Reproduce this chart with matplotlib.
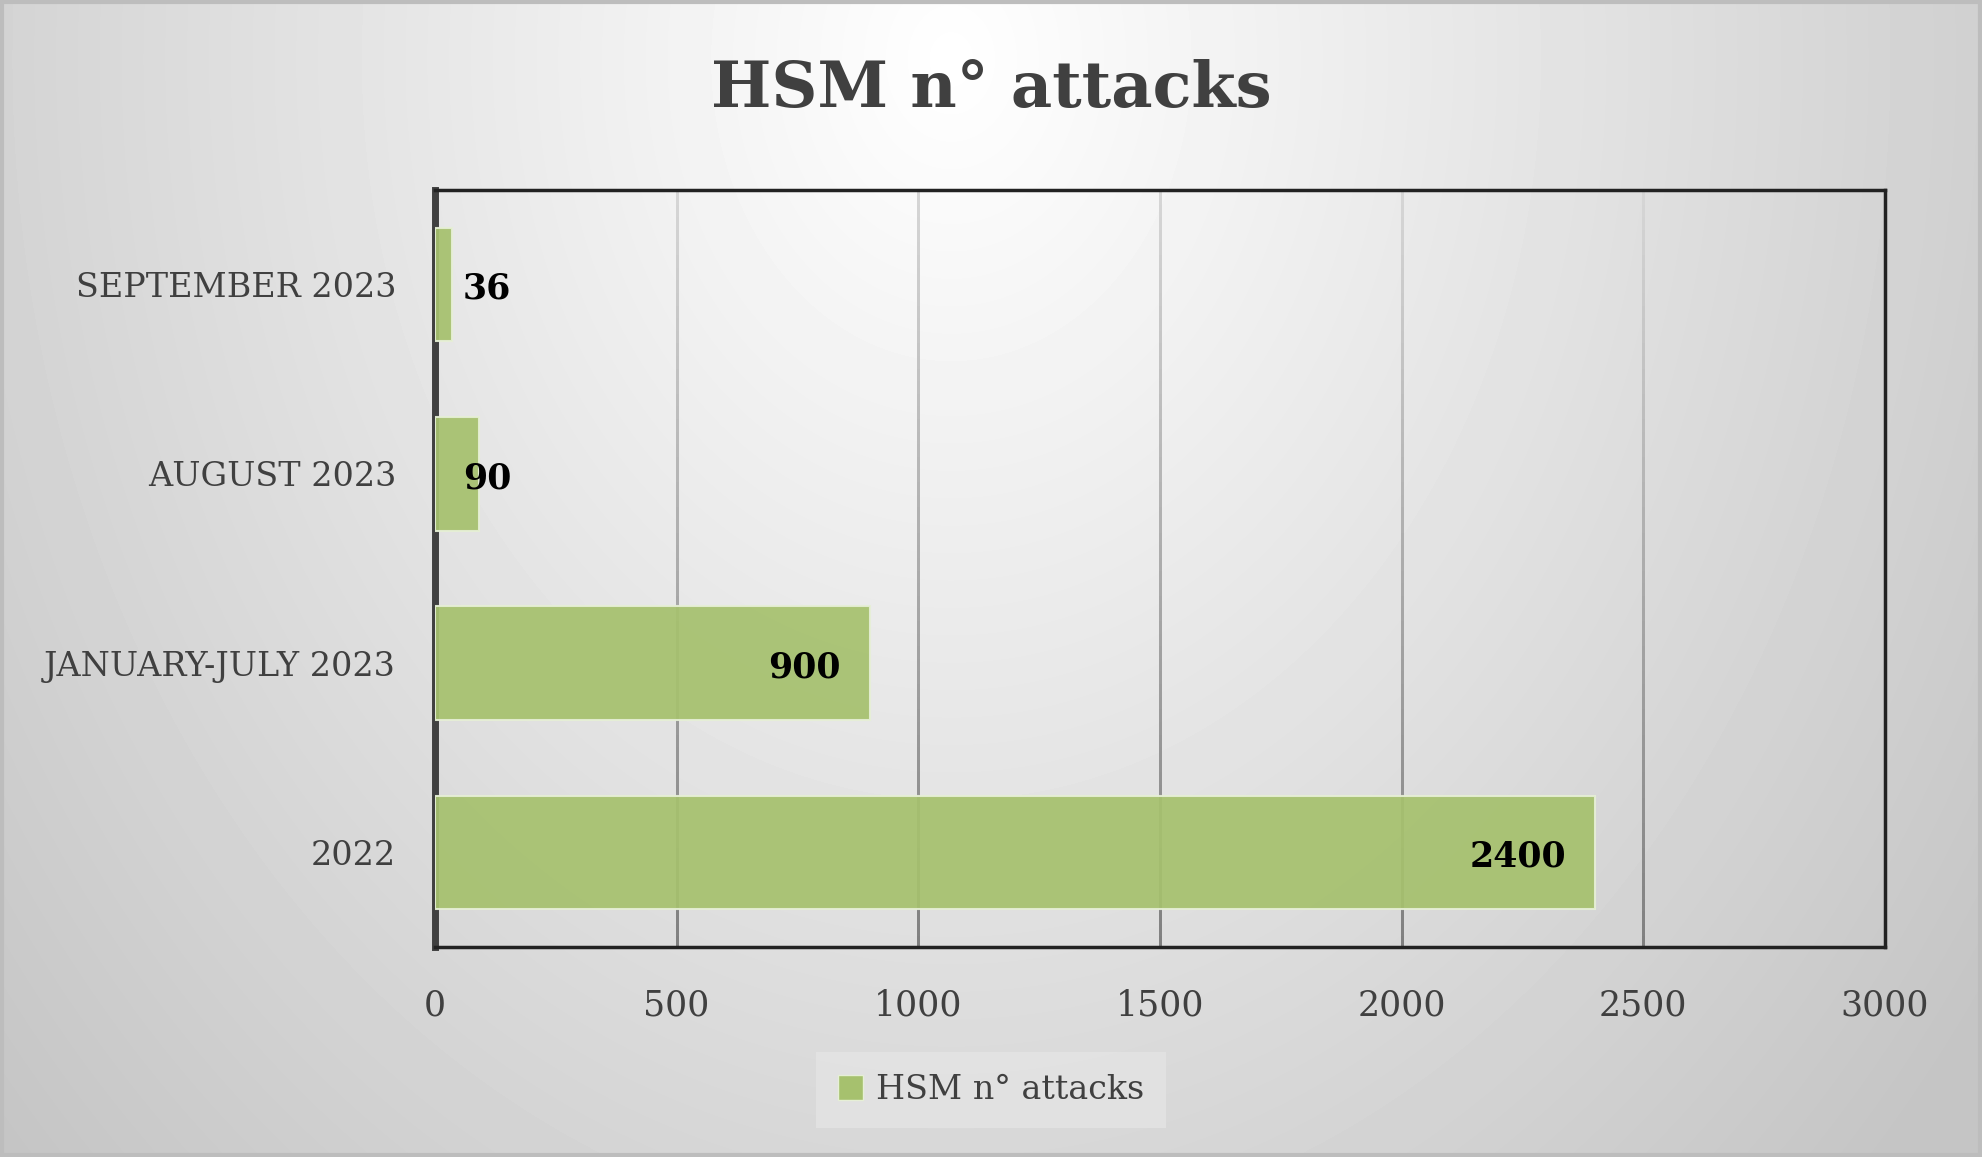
import numpy as np
import matplotlib
matplotlib.use("Agg")
import matplotlib.pyplot as plt
from matplotlib.patches import Patch
from matplotlib.collections import LineCollection

categories = ["2022", "JANUARY-JULY 2023", "AUGUST 2023", "SEPTEMBER 2023"]
attacks = [2400, 900, 90, 36]
xticks = [0, 500, 1000, 1500, 2000, 2500, 3000]
series_name = "HSM n° attacks"

plt.rcParams["font.family"] = ["DejaVu Serif"]
bar_color = "#a6c16e"
text_gray = "#404040"

fig = plt.figure(figsize=(19.82, 11.57), dpi=100)

# radial grey background
bg = fig.add_axes([0, 0, 1, 1], zorder=-10)
yy, xx = np.mgrid[0:1:300j, 0:1:500j]
d = np.sqrt(((xx - 0.48) / 0.65) ** 2 + ((yy - 0.05) / 1.4) ** 2)
shade = 1.0 - 0.23 * np.clip(d, 0, 1)
bg.imshow(shade, cmap="gray", vmin=0, vmax=1, aspect="auto", extent=[0, 1, 1, 0], interpolation="bilinear")
bg.set_xlim(0, 1)
bg.set_ylim(1, 0)
bg.axis("off")
bg.add_patch(plt.Rectangle((0.001, 0.002), 0.998, 0.996, fill=False, ec="#bdbdbd", lw=3))

ax = fig.add_axes([435 / 1982, 1 - 947 / 1157, 1450 / 1982, 757 / 1157])
ax.patch.set_alpha(0)

# vertical gridlines, light at the top and darker towards the bottom
n = 60
ts = np.linspace(0, 1, n + 1)
for xt in xticks[1:-1]:
    segs = [[(xt, ts[i]), (xt, ts[i + 1])] for i in range(n)]
    g = 0.50 + 0.34 * (ts[:-1] + ts[1:]) / 2
    lc = LineCollection(segs, colors=[(c, c, c) for c in g], linewidths=1.8,
                        capstyle="projecting", antialiaseds=False,
                        transform=ax.get_xaxis_transform(), zorder=1)
    ax.add_collection(lc)

y = np.arange(len(categories))
bars = ax.barh(y, attacks, height=0.6, color=bar_color, alpha=0.93,
               edgecolor="#e6efd6", linewidth=1.5, zorder=3)

for v, yi in zip(attacks, y):
    if v > 300:
        ax.annotate(str(v), (v, yi), xytext=(-21, -3), textcoords="offset points",
                    ha="right", va="center", fontsize=25, fontweight="bold", color="black", zorder=5)
    else:
        ax.annotate(str(v), (0, yi), xytext=(20, -3), textcoords="offset points",
                    ha="left", va="center", fontsize=25, fontweight="bold", color="black", zorder=5)

ax.set_xlim(0, 3000)
ax.set_ylim(-0.5, len(categories) - 0.5)
ax.set_xticks(xticks)
ax.set_yticks(y)
ax.set_yticklabels(categories)
ax.tick_params(axis="both", length=0, labelsize=24, colors=text_gray)
ax.tick_params(axis="x", labelsize=25, pad=30)
ax.tick_params(axis="y", pad=28)

for side in ["top", "right", "bottom"]:
    ax.spines[side].set_color("#222222")
    ax.spines[side].set_linewidth(2.5)
ax.spines["left"].set_color("#404040")
ax.spines["left"].set_linewidth(5)

fig.text(0.5, 1 - 90 / 1157, "HSM n° attacks", ha="center", va="center",
         fontsize=46, fontweight="bold", color=text_gray)

leg = fig.legend(handles=[Patch(facecolor=bar_color, edgecolor="#e6efd6", label=series_name)],
                 loc="center", bbox_to_anchor=(0.5, 1 - 1090 / 1157), fontsize=24,
                 frameon=True, fancybox=False, handlelength=0.75, handleheight=0.75,
                 handletextpad=0.4, borderpad=0.65, borderaxespad=0)
leg.get_frame().set_facecolor("#e4e4e4")
leg.get_frame().set_edgecolor("none")
for t in leg.get_texts():
    t.set_color(text_gray)

fig.savefig("out.png", dpi=100)
